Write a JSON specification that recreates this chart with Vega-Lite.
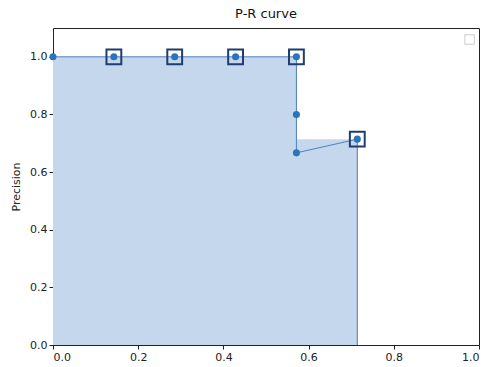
{
  "$schema": "https://vega.github.io/schema/vega-lite/v6.json",
  "width": 426,
  "height": 317,
  "autosize": "none",
  "padding": {"left": 53, "top": 28, "right": 7, "bottom": 22},
  "background": "white",
  "title": {"text": "P-R curve", "font": "DejaVu Sans", "fontSize": 13, "fontWeight": "normal", "color": "#111", "offset": 7},
  "config": {
    "view": {"stroke": "#222", "strokeWidth": 1},
    "axis": {"labelFont": "DejaVu Sans", "labelFontSize": 11, "labelColor": "#222", "titleFont": "DejaVu Sans", "titleFontSize": 11, "titleFontWeight": "normal", "titleColor": "#222", "grid": false, "domainColor": "#222", "tickColor": "#222", "tickSize": 4}
  },
  "datasets": {
    "pr": [
      {"recall": 0.0, "precision": 1.0, "order": 0},
      {"recall": 0.1429, "precision": 1.0, "order": 1},
      {"recall": 0.2857, "precision": 1.0, "order": 2},
      {"recall": 0.4286, "precision": 1.0, "order": 3},
      {"recall": 0.5714, "precision": 1.0, "order": 4},
      {"recall": 0.5714, "precision": 0.8, "order": 5},
      {"recall": 0.5714, "precision": 0.6667, "order": 6},
      {"recall": 0.7143, "precision": 0.7143, "order": 7}
    ],
    "env": [
      {"recall": 0.0, "precision": 1.0},
      {"recall": 0.5714, "precision": 0.7143},
      {"recall": 0.7143, "precision": 0.7143}
    ],
    "marked": [
      {"recall": 0.1429, "precision": 1.0},
      {"recall": 0.2857, "precision": 1.0},
      {"recall": 0.4286, "precision": 1.0},
      {"recall": 0.5714, "precision": 1.0},
      {"recall": 0.7143, "precision": 0.7143}
    ],
    "edge": [{"recall": 0.7143, "precision": 0.7143}],
    "legend": [{"recall": 0.978, "precision": 1.06}]
  },
  "layer": [
    {
      "data": {"name": "env"},
      "mark": {"type": "area", "interpolate": "step-after", "color": "#c5d7ec", "opacity": 1},
      "encoding": {
        "x": {"field": "recall", "type": "quantitative", "scale": {"domain": [0, 1], "nice": false}, "axis": {"values": [0, 0.2, 0.4, 0.6, 0.8, 1.0], "format": ".1f", "title": null, "domain": false}},
        "y": {"field": "precision", "type": "quantitative", "scale": {"domain": [0, 1.1], "nice": false}, "axis": {"values": [0, 0.2, 0.4, 0.6, 0.8, 1.0], "format": ".1f", "title": "Precision", "titlePadding": 8, "domain": false}}
      }
    },
    {
      "data": {"name": "edge"},
      "mark": {"type": "rule", "color": "#5a75a8", "strokeWidth": 1},
      "encoding": {
        "x": {"field": "recall", "type": "quantitative"},
        "y": {"field": "precision", "type": "quantitative"},
        "y2": {"datum": 0}
      }
    },
    {
      "data": {"name": "pr"},
      "mark": {"type": "line", "color": "#4f7fbf", "strokeWidth": 1},
      "encoding": {
        "x": {"field": "recall", "type": "quantitative"},
        "y": {"field": "precision", "type": "quantitative"},
        "order": {"field": "order"}
      }
    },
    {
      "data": {"name": "marked"},
      "mark": {"type": "square", "filled": false, "stroke": "#1f3d6e", "strokeWidth": 2, "size": 220, "opacity": 1},
      "encoding": {
        "x": {"field": "recall", "type": "quantitative"},
        "y": {"field": "precision", "type": "quantitative"}
      }
    },
    {
      "data": {"name": "pr"},
      "mark": {"type": "circle", "color": "#2a74bb", "opacity": 1, "size": 50},
      "encoding": {
        "x": {"field": "recall", "type": "quantitative"},
        "y": {"field": "precision", "type": "quantitative"}
      }
    },
    {
      "data": {"name": "legend"},
      "mark": {"type": "square", "filled": false, "stroke": "#ccc", "strokeWidth": 1, "size": 90, "opacity": 1},
      "encoding": {
        "x": {"field": "recall", "type": "quantitative"},
        "y": {"field": "precision", "type": "quantitative"}
      }
    }
  ]
}
